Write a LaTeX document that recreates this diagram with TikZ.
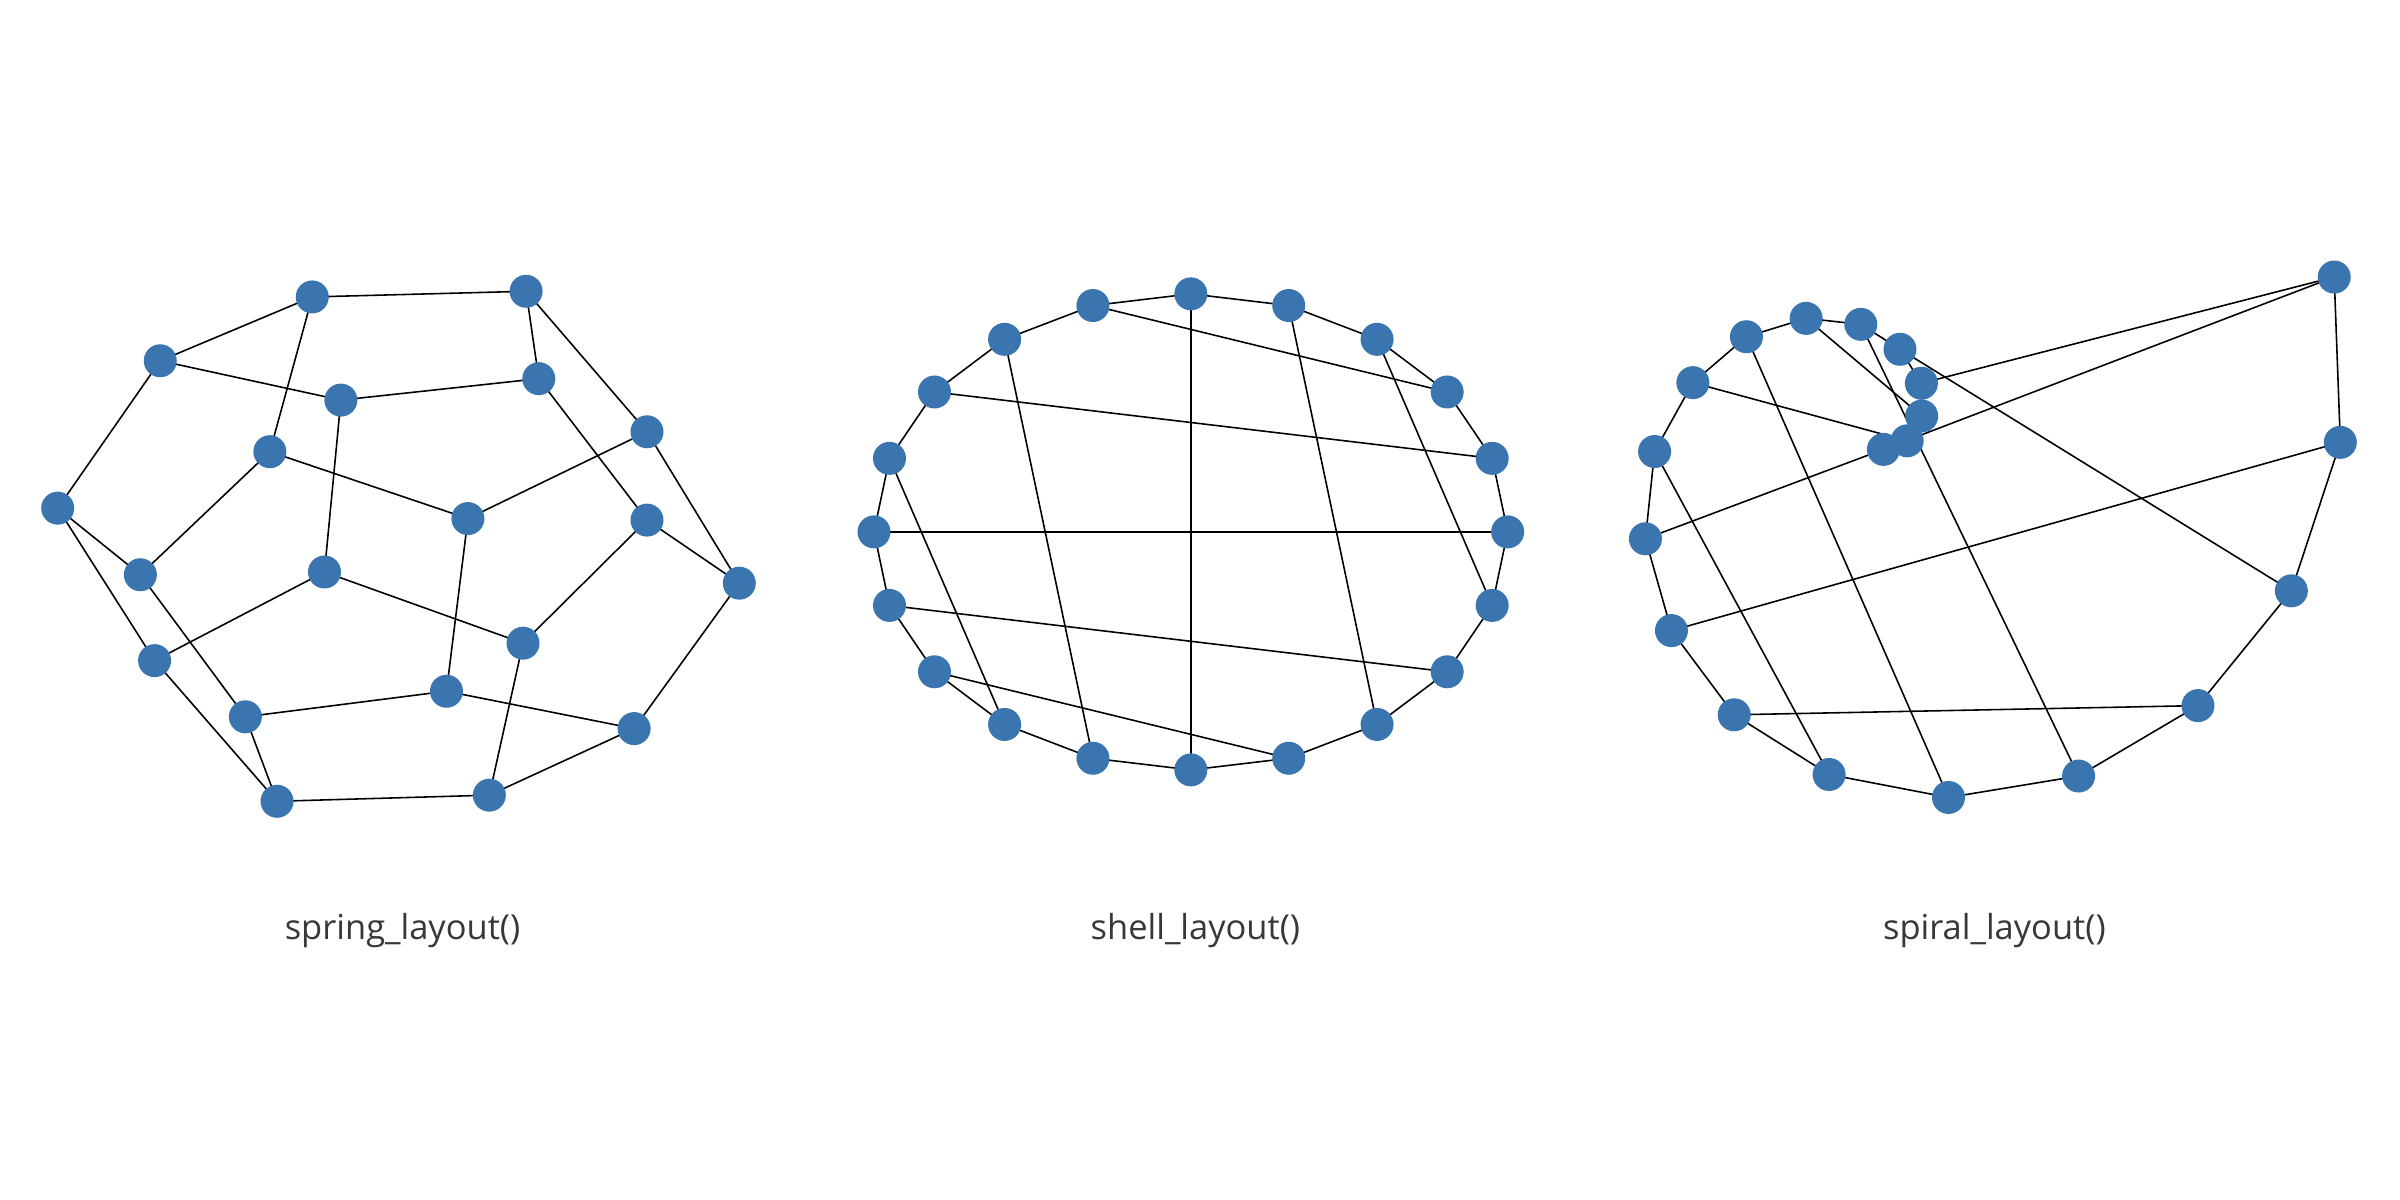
\documentclass[tikz,border=0pt]{standalone}
\usepackage{fontspec}
\setmainfont{Open Sans}
\usepackage{xcolor}
\usepackage{tikz}
\usetikzlibrary{positioning, backgrounds}
\definecolor{vertexColor}{HTML}{3B75AF}

\begin{document}
\begin{tikzpicture}[
    x=0.015306cm, y=-0.015306cm,
    vertex/.style={circle, fill=vertexColor, inner sep=0pt, minimum size=0.33cm},
    link/.style={draw=black, line width=0.45pt},
    captionStyle/.style={font=\fontsize{9.8}{11}\selectfont, text=black!78}
]
\useasboundingbox (0,0) rectangle (1568,784);

% spring layout
\foreach \i/\px/\py in {0/204/194, 1/343.7/190.3, 2/352/247.4, 3/222.7/261.4, 4/212/373.7,
    5/341.7/420.2, 6/422.7/339.8, 7/483/381, 8/422.7/282.1, 9/305.7/338.8,
    10/176.3/295.1, 11/91.7/375.5, 12/160.3/468.3, 13/291.7/451.6, 14/414.3/476,
    15/319.7/519.5, 16/181/523.5, 17/101/431.6, 18/37.7/332, 19/104.7/235.7}
    \node[vertex] (Spr\i) at (\px,\py) {};

% shell layout
\foreach \i in {0,...,19}
    \node[vertex] (She\i) at ({778+207*cos(18*\i)}, {347.5-155.5*sin(18*\i)}) {};

% spiral layout
\foreach \i/\px/\py in {0/1230.5/293.6, 1/1246/288, 2/1255.5/271.8, 3/1255.3/250.4, 4/1241.3/228.2,
    5/1215.7/211.9, 6/1180/208, 7/1141/220, 8/1106/250, 9/1081/295,
    10/1075/352, 11/1092/412, 12/1133/467, 13/1195/506, 14/1273/521,
    15/1358/507, 16/1436/461, 17/1497/386, 18/1529/289, 19/1525/181}
    \node[vertex] (Spi\i) at (\px,\py) {};

\node[captionStyle] (springCap) at (263,608) {spring\_layout()};
\node[captionStyle] (shellCap) at (781,608) {shell\_layout()};
\node[captionStyle] (spiralCap) at (1303,608) {spiral\_layout()};

% same dodecahedral edges in all three
\begin{scope}[on background layer]
\foreach \g in {Spr, She, Spi} {
    \foreach \a/\b in {0/1, 1/2, 2/3, 3/4, 4/5, 5/6, 6/7, 7/8, 8/9, 9/10,
        10/11, 11/12, 12/13, 13/14, 14/15, 15/16, 16/17, 17/18, 18/19, 19/0,
        0/10, 1/8, 2/6, 3/19, 4/17, 5/15, 7/14, 9/13, 11/18, 12/16}
        \draw[link] (\g\a.center) -- (\g\b.center);
}
\end{scope}

\end{tikzpicture}
\end{document}
